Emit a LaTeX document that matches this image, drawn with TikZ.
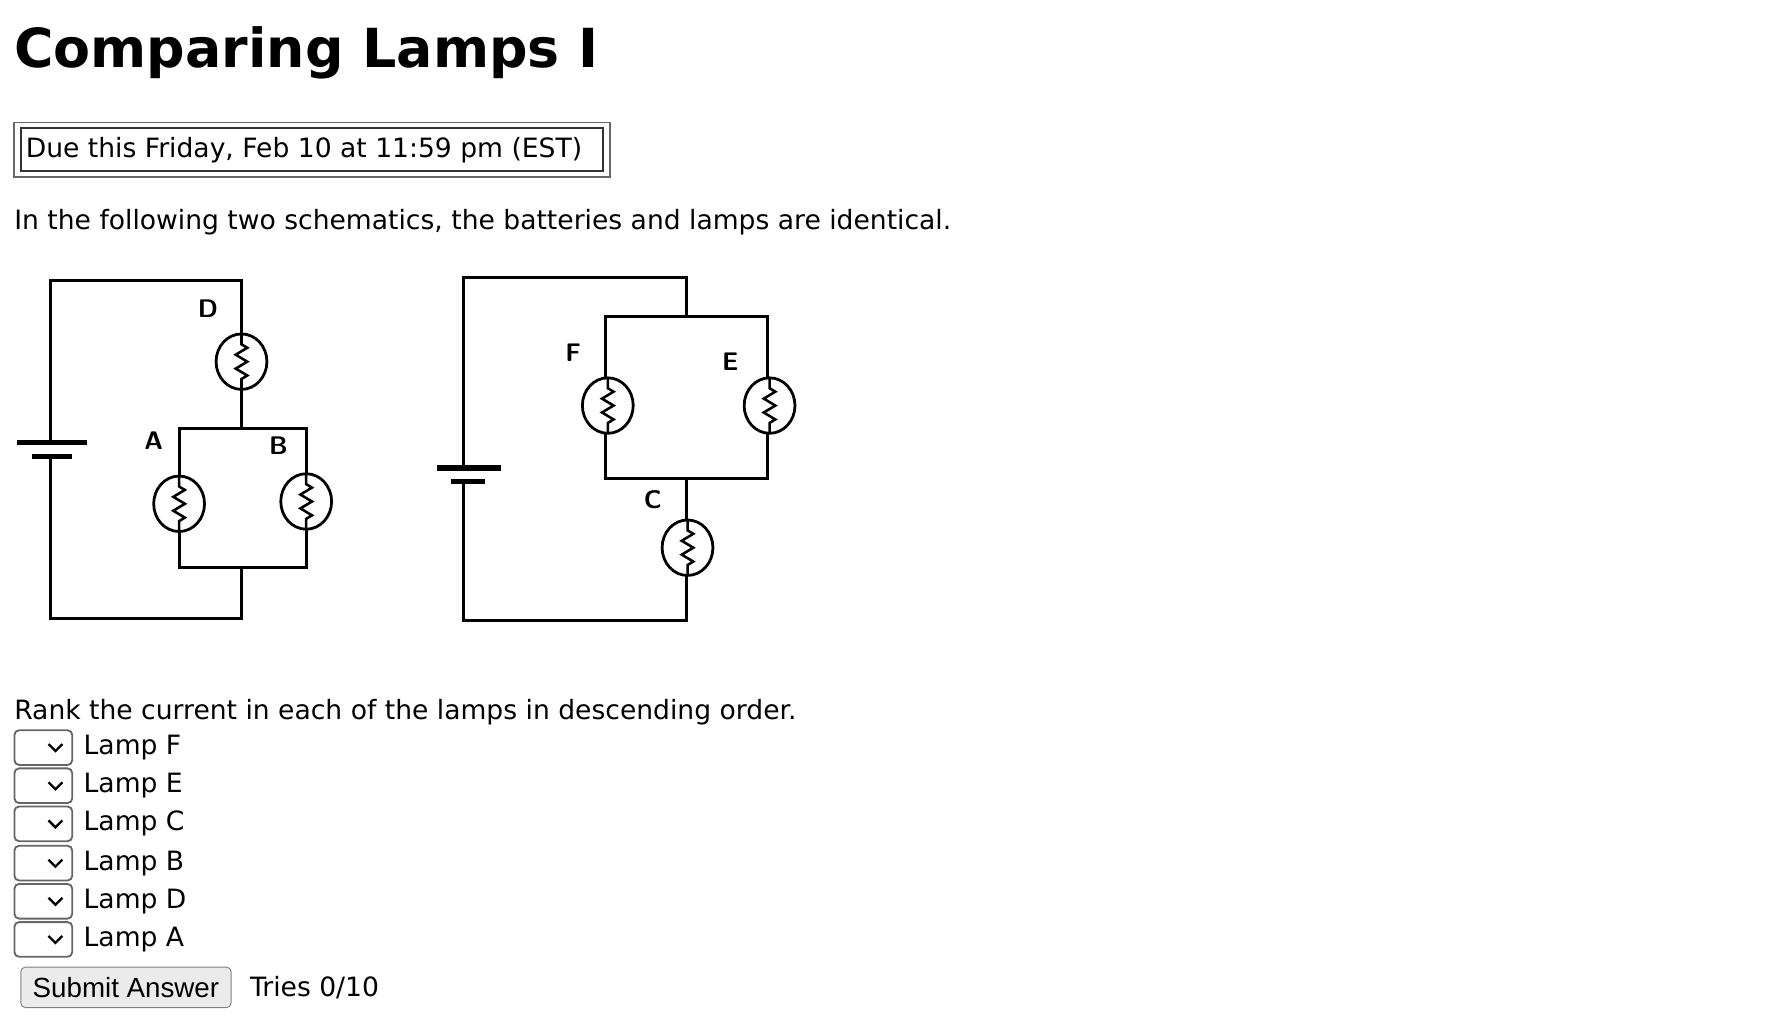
\documentclass[tikz,border=0pt]{standalone}
\usepackage{fontspec}
\setmainfont{DejaVu Sans}
\newfontfamily\btnfont{Liberation Sans}
\begin{document}
\begin{tikzpicture}[x=0.5pt,y=-0.5pt,
  wire/.style={line width=1.3pt},
  lbl/.style={font=\fontsize{11}{11}\selectfont\sffamily\bfseries},
  txt/.style={anchor=west,inner sep=0,font=\fontsize{11.5}{14}\selectfont},
  sel/.style={draw=black!60,rounded corners=2pt,line width=0.8pt,minimum width=25pt,minimum height=15pt,inner sep=0},
  lamp/.pic={\draw[line width=1.2pt,fill=white] (0,0) ellipse (11pt and 12pt);
    \draw[line width=1.1pt] (0,-24)--(0,-15)--(5,-12)--(-5,-6)--(5,0)--(-5,6)--(5,12)--(0,15)--(0,24);}]
\useasboundingbox (0,0) rectangle (1550,881);
\node[anchor=west,inner sep=0,font=\fontsize{23.3}{24}\selectfont\bfseries] (title) at (12,46) {Comparing Lamps I};
\draw[black!60,line width=0.8pt] (12,106) rectangle (528,153);
\draw[black!80,line width=0.8pt] (18,111) rectangle (522,148);
\node[txt] (due) at (22,130) {Due this Friday, Feb 10 at 11:59 pm (EST)};
\node[txt] (intro) at (12,192) {In the following two schematics, the batteries and lamps are identical.};
% left circuit
\draw[wire] (44,383)--(44,243)--(209,243)--(209,371);
\draw[wire] (44,395)--(44,535)--(209,535)--(209,491);
\draw[wire] (155,371) rectangle (265,491);
\draw[line width=2.2pt] (15,383)--(75,383) (28,395)--(62,395);
\pic at (209,313) {lamp};
\pic at (155,436) {lamp};
\pic at (265,434) {lamp};
\node[lbl] (D) at (180,267) {D};
\node[lbl] (A) at (133,381) {A};
\node[lbl] (B) at (241,386) {B};
% right circuit
\draw[wire] (401,405)--(401,240)--(594,240)--(594,274);
\draw[wire] (401,417)--(401,537)--(594,537)--(594,414);
\draw[wire] (524,274) rectangle (664,414);
\draw[line width=2.2pt] (378,405)--(434,405) (390,417)--(420,417);
\pic at (526,351) {lamp};
\pic at (666,351) {lamp};
\pic at (595,474) {lamp};
\node[lbl] (F) at (496,305) {F};
\node[lbl] (E) at (632,313) {E};
\node[lbl] (C) at (565,432) {C};
\node[txt] (rank) at (12,616) {Rank the current in each of the lamps in descending order.};
\foreach \y/\t [count=\i] in {647/F,680/E,713/C,747/B,780/D,813/A}{
  \node[sel] (s\i) at (37.5,\y) {};
  \draw[line width=1pt] (42,\y-3)--(48,\y+3)--(54,\y-3);
  \node[txt] (l\i) at (72,\y) {Lamp \t};
}
\node[draw=black!50,fill=black!8,rounded corners=2pt,minimum width=91pt,minimum height=17.5pt,inner sep=0,font=\btnfont\fontsize{12}{12}\selectfont] (submit) at (109,854.5) {Submit Answer};
\node[txt] (tries) at (216,855) {Tries 0/10};
\end{tikzpicture}
\end{document}
